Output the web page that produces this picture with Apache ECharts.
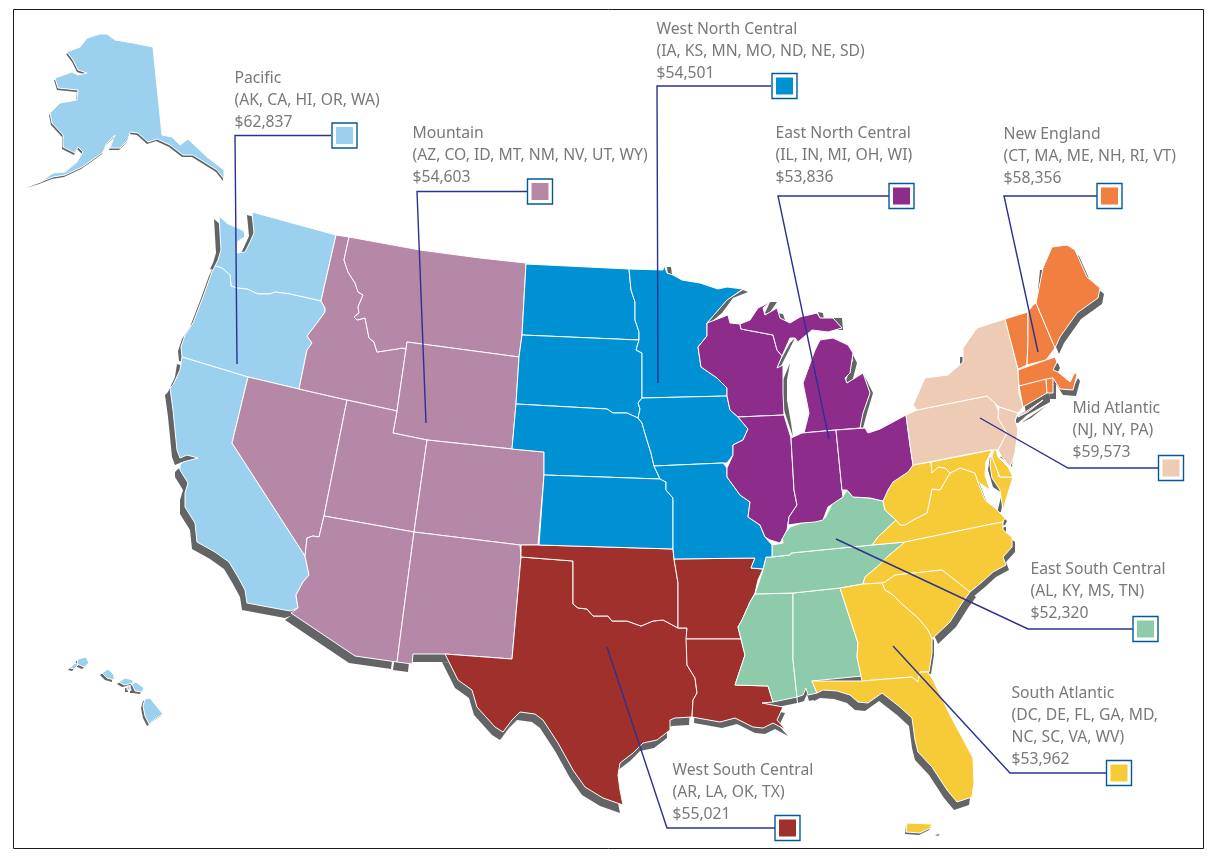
<!DOCTYPE html>
<html>
<head>
<meta charset="utf-8">
<style>html,body{margin:0;padding:0;background:#fff}#chart{width:1216px;height:857px}</style>
<script src="https://cdn.jsdelivr.net/npm/echarts@6/dist/echarts.min.js"></script>
</head>
<body>
<div id="chart"></div>
<script>
// regions
var regionNames = ['Pacific', 'Mountain', 'West North Central', 'East North Central', 'New England', 'Mid Atlantic', 'East South Central', 'South Atlantic', 'West South Central'];
var regionLists = ['(AK, CA, HI, OR, WA)', '(AZ, CO, ID, MT, NM, NV, UT, WY)', '(IA, KS, MN, MO, ND, NE, SD)', '(IL, IN, MI, OH, WI)', '(CT, MA, ME, NH, RI, VT)', '(NJ, NY, PA)', '(AL, KY, MS, TN)', '(DC, DE, FL, GA, MD,\nNC, SC, VA, WV)', '(AR, LA, OK, TX)'];
var regionIncome = ['$62,837', '$54,603', '$54,501', '$53,836', '$58,356', '$59,573', '$52,320', '$53,962', '$55,021'];
var regionColors = ['#9bd1ee', '#b688a8', '#0090d4', '#8e2c8c', '#f18040', '#eecbb5', '#8dcbab', '#f7cb38', '#a0302c'];
var regionStates = [
	['AK', 'CA', 'HI', 'OR', 'WA'],
	['AZ', 'CO', 'ID', 'MT', 'NM', 'NV', 'UT', 'WY'],
	['IA', 'KS', 'MN', 'MO', 'ND', 'NE', 'SD'],
	['IL', 'IN', 'MI', 'OH', 'WI'],
	['CT', 'MA', 'ME', 'NH', 'RI', 'VT'],
	['NJ', 'NY', 'PA'],
	['AL', 'KY', 'MS', 'TN'],
	['DE', 'FL', 'GA', 'MD', 'NC', 'SC', 'VA', 'WV', 'PR'],
	['AR', 'LA', 'OK', 'TX']
];

// callout layout, picture pixels
var labelAnchors = [[234, 100.5], [412, 155.5], [656, 51.5], [775, 155.5], [1003, 156.5], [1072, 430.5], [1030, 591.5], [1011, 726.5], [672, 792.5]];
var keyAnchors = [[344.5, 135.5], [540, 191.5], [784.5, 86], [901.5, 196], [1109.5, 196], [1171, 468], [1145.5, 629], [1119, 773], [787.5, 828]];
var leaders = [
	[[331, 135.5], [235, 135.5], [237, 364]],
	[[527, 191.5], [417, 191.5], [426, 423]],
	[[771, 86], [657, 86], [658, 383]],
	[[889, 196], [778, 196], [829, 439]],
	[[1097, 196], [1004, 196], [1038, 352]],
	[[1158, 468], [1068, 468], [980, 418]],
	[[1133, 629], [1028, 629], [836, 539]],
	[[1106, 773], [1010, 773], [893, 646]],
	[[775, 828], [667, 828], [607, 647]]
];

// state outlines in pixels
var stateShapes = {
	AK: [[[100,34],[107,34],[115,40],[133,43],[153,47],[162,135],[172,137],[180,145],[188,139],[207,157],[224,170],[224,179],[217,170],[193,155],[183,155],[170,145],[157,139],[148,142],[138,133],[130,132],[128,140],[120,148],[110,148],[115,135],[107,143],[103,152],[92,160],[82,167],[65,175],[53,177],[40,182],[27,186],[43,180],[53,173],[65,172],[77,162],[83,152],[78,147],[75,153],[63,147],[63,135],[52,123],[50,113],[60,103],[77,100],[78,90],[58,88],[55,78],[72,72],[78,75],[87,73],[78,70],[73,60],[67,52],[80,47],[87,38]]],
	HI: [[[78,659],[86,657],[89,663],[84,667],[77,664]],[[70,668],[75,663],[78,665],[74,669]],[[102,673],[108,669],[114,675],[114,680],[107,678]],[[119,682],[125,678],[133,680],[133,683],[124,685]],[[132,684],[136,682],[144,688],[142,692],[135,691]],[[127,686],[130,686],[130,690],[127,690]],[[145,699],[150,698],[158,708],[163,714],[155,719],[149,724],[145,716],[143,706]]],
	WA: [[[252,212],[336,235],[321,301],[290,294],[275,292],[270,294],[258,294],[247,289],[237,288],[231,286],[230,275],[222,268],[215,266],[218,260],[221,250],[219,216],[228,224],[238,228],[244,231],[245,237],[238,241],[237,253],[245,252],[250,242],[254,233]]],
	OR: [[[215,266],[222,268],[230,275],[231,286],[237,288],[247,289],[258,294],[270,294],[275,292],[290,294],[321,301],[325,308],[325,312],[317,323],[307,336],[312,343],[307,350],[299,389],[248,377],[182,357],[181,347],[185,335],[193,323],[203,297],[212,272]]],
	CA: [[[182,357],[248,377],[232,443],[305,556],[309,575],[303,582],[296,595],[298,608],[290,611],[247,603],[245,590],[238,577],[229,562],[215,552],[197,542],[195,523],[185,507],[185,493],[188,483],[180,470],[180,465],[183,462],[198,458],[187,455],[180,458],[177,450],[175,430],[173,410],[170,388],[173,385],[180,370]]],
	NV: [[[248,377],[299,389],[347,400],[341,430],[324,516],[319,537],[313,536],[307,538],[305,556],[232,443]]],
	ID: [[[336,235],[349,237],[344,260],[348,272],[355,283],[358,292],[363,295],[358,307],[359,313],[354,317],[357,320],[365,318],[369,338],[374,342],[377,352],[397,349],[402,348],[406,349],[397,411],[347,400],[299,389],[307,350],[312,343],[307,336],[317,323],[325,312],[325,308],[321,301]]],
	MT: [[[349,237],[420,250],[480,258],[526,263],[522,335],[519,357],[407,342],[406,349],[402,348],[397,349],[377,352],[374,342],[369,338],[365,318],[357,320],[354,317],[359,313],[358,307],[363,295],[358,292],[355,283],[348,272],[344,260]]],
	WY: [[[407,342],[519,357],[516,404],[512,449],[427,440],[393,433],[397,411]]],
	UT: [[[347,400],[397,411],[393,433],[427,440],[414,532],[324,516],[341,430]]],
	CO: [[[427,440],[512,449],[544,452],[544,475],[538,545],[520,545],[414,532]]],
	AZ: [[[324,516],[414,532],[397,662],[355,656],[291,613],[298,608],[296,595],[303,582],[309,575],[305,556],[307,538],[313,536],[319,537]]],
	NM: [[[414,532],[520,545],[521,557],[512,659],[445,654],[413,654],[412,664],[397,662]]],
	TX: [[[521,557],[573,561],[573,604],[578,608],[587,609],[593,616],[608,616],[612,621],[627,621],[641,626],[653,621],[663,620],[678,628],[687,628],[687,665],[695,678],[697,693],[693,700],[692,717],[675,718],[670,720],[670,730],[657,740],[643,743],[633,753],[620,763],[618,775],[620,790],[623,805],[603,798],[585,787],[573,770],[558,743],[543,720],[535,714],[520,712],[512,720],[503,732],[495,727],[477,707],[472,690],[458,680],[445,654],[512,659]]],
	OK: [[[521,545],[539,545],[673,549],[674,559],[678,583],[678,628],[663,620],[653,621],[641,626],[627,621],[612,621],[608,616],[593,616],[587,609],[578,608],[573,604],[573,561],[521,557]]],
	AR: [[[674,559],[755,558],[751,568],[763,569],[758,580],[755,593],[750,602],[742,620],[738,627],[741,639],[686,639],[687,628],[678,628],[678,583]]],
	LA: [[[686,639],[741,639],[745,655],[735,685],[768,686],[773,702],[762,703],[783,707],[777,720],[786,730],[773,723],[763,728],[753,727],[735,718],[720,722],[692,717],[693,700],[697,693],[695,678],[687,665]]],
	MS: [[[755,594],[793,593],[793,660],[797,697],[773,702],[768,686],[735,685],[745,655],[741,639],[738,627],[742,620],[750,602]]],
	AL: [[[793,593],[840,588],[858,643],[857,657],[862,676],[812,681],[817,693],[808,695],[806,688],[803,695],[797,697],[793,660]]],
	TN: [[[755,594],[763,570],[766,557],[772,557],[790,555],[791,553],[872,545],[905,542],[887,557],[877,567],[865,577],[863,584],[840,588],[793,593]]],
	KY: [[[772,557],[772,545],[783,543],[782,537],[790,527],[802,523],[815,518],[825,518],[833,502],[842,498],[847,490],[853,497],[870,498],[883,501],[885,510],[896,520],[878,537],[872,545],[791,553],[790,555]]],
	VA: [[[896,520],[900,525],[905,525],[913,520],[927,513],[932,489],[940,490],[950,473],[960,468],[975,473],[978,482],[985,500],[995,508],[1005,518],[1003,522],[987,525],[905,542],[872,545],[878,537]]],
	WV: [[[883,501],[888,490],[893,482],[908,472],[913,465],[931,462],[932,473],[938,467],[945,468],[950,473],[940,490],[932,489],[927,513],[913,520],[905,525],[900,525],[896,520],[885,510]]],
	MD: [[[931,462],[992,450],[986,462],[985,475],[990,490],[978,482],[975,473],[960,468],[950,473],[945,468],[938,467],[932,473]],[[992,450],[999,477],[1013,477],[1009,490],[1003,510],[1000,490],[992,478],[990,465]]],
	DE: [[[995,445],[998,457],[1008,467],[1013,477],[1000,477],[992,457]]],
	NC: [[[905,542],[987,525],[1003,522],[1003,530],[1012,537],[1012,547],[1003,557],[1006,565],[993,572],[982,582],[970,592],[942,570],[895,575],[885,582],[882,583],[863,584],[865,577],[877,567],[887,557]]],
	SC: [[[882,583],[885,582],[895,575],[942,570],[970,592],[962,603],[950,622],[932,639],[928,630],[918,618],[903,605],[893,595],[885,590]]],
	GA: [[[840,588],[863,584],[882,583],[885,590],[893,595],[903,605],[918,618],[928,630],[932,639],[932,653],[929,672],[920,672],[918,682],[912,677],[862,681],[857,657],[858,643]]],
	FL: [[[812,681],[862,681],[912,677],[918,682],[920,672],[928,672],[933,680],[950,715],[973,758],[974,783],[972,797],[957,802],[947,790],[932,767],[918,752],[915,740],[912,718],[900,707],[882,693],[868,703],[858,702],[850,695],[837,691],[823,690],[817,693]]],
	PR: [[[907,823],[932,824],[930,828],[920,833],[906,832]],[[936,833],[941,832],[939,834]]],
	ND: [[[526,264],[629,269],[631,290],[635,302],[635,320],[639,332],[639,340],[522,335]]],
	SD: [[[522,335],[639,340],[636,350],[642,353],[642,398],[638,403],[640,409],[638,418],[627,413],[613,413],[607,409],[516,404],[519,357]]],
	NE: [[[516,404],[607,409],[613,413],[627,413],[638,418],[642,423],[646,437],[651,453],[654,466],[660,479],[544,475],[544,452],[512,449]]],
	KS: [[[544,475],[660,479],[666,482],[666,490],[673,498],[673,549],[539,545]]],
	MN: [[[629,269],[663,270],[664,265],[667,273],[673,275],[682,280],[700,283],[718,289],[727,287],[743,289],[727,300],[707,323],[707,336],[698,347],[701,367],[717,378],[727,388],[727,396],[642,398],[642,353],[636,350],[639,340],[639,332],[635,320],[635,302],[631,290]]],
	IA: [[[642,398],[727,396],[730,410],[738,417],[748,429],[743,440],[733,445],[733,455],[727,463],[723,463],[654,466],[651,453],[646,437],[642,423],[638,418],[640,409],[638,403]]],
	MO: [[[654,466],[723,463],[727,468],[727,477],[740,495],[750,502],[748,517],[760,525],[765,537],[772,545],[772,557],[766,557],[763,569],[751,568],[755,558],[674,559],[673,549],[673,498],[666,490],[666,482],[660,479]]],
	WI: [[[707,323],[728,315],[730,323],[740,324],[741,329],[773,335],[777,350],[782,356],[777,368],[783,365],[783,393],[784,415],[738,417],[730,410],[727,396],[727,388],[717,378],[701,367],[698,347],[707,336]]],
	MI: [[[740,324],[741,329],[773,335],[777,350],[782,356],[790,338],[795,338],[798,342],[812,330],[828,332],[842,328],[833,318],[820,318],[817,313],[800,317],[790,323],[780,318],[777,308],[765,315],[763,308],[770,302],[758,308],[750,320]],[[802,433],[804,433],[809,413],[803,383],[815,350],[820,340],[833,338],[848,345],[853,353],[850,373],[845,378],[847,383],[863,373],[870,393],[863,413],[860,428],[836,430]]],
	IL: [[[738,417],[784,415],[791,438],[794,490],[797,505],[789,517],[787,530],[780,543],[770,540],[765,537],[760,525],[748,517],[750,502],[740,495],[727,477],[727,468],[733,455],[733,445],[743,440],[748,429]]],
	IN: [[[791,438],[802,433],[836,430],[842,490],[843,497],[828,507],[823,520],[815,522],[802,523],[788,525],[789,517],[797,505],[794,490]]],
	OH: [[[836,430],[865,428],[868,433],[880,429],[906,415],[910,445],[913,465],[908,472],[893,482],[888,490],[883,501],[870,498],[853,497],[847,490],[842,490]]],
	PA: [[[906,415],[917,410],[987,396],[995,403],[999,412],[998,418],[1007,433],[998,450],[990,450],[913,465],[910,445]]],
	NY: [[[917,410],[913,405],[925,378],[948,375],[963,362],[963,348],[977,328],[1005,319],[1013,350],[1018,370],[1019,393],[1023,407],[1018,413],[999,407],[995,403],[987,396]]],
	NJ: [[[999,407],[1018,413],[1015,420],[1018,430],[1015,453],[1010,467],[1002,457],[998,450],[1007,433],[998,418]]],
	VT: [[[1005,319],[1028,312],[1028,327],[1028,340],[1027,365],[1018,369],[1013,350]]],
	NH: [[[1028,312],[1033,305],[1036,303],[1055,348],[1046,360],[1027,365],[1028,340],[1028,327]]],
	ME: [[[1036,303],[1043,268],[1052,247],[1067,245],[1075,250],[1087,277],[1100,288],[1098,298],[1077,313],[1060,337],[1055,348]]],
	MA: [[[1018,370],[1046,360],[1055,357],[1057,362],[1053,370],[1058,372],[1070,382],[1075,372],[1077,375],[1073,390],[1060,389],[1053,378],[1019,386]]],
	CT: [[[1019,386],[1046,379],[1047,393],[1023,407]],[[1018,417],[1043,400],[1028,412]]],
	RI: [[[1046,379],[1053,378],[1053,393],[1047,393]]]
};

// dark coast edge: each state repeated under itself, moved by this much
var edgeShift = {
	AK: [-1, 2], HI: [-2, 2], PR: [-1, 2], WA: [-5, 3], OR: [-3, 4], CA: [-5, 7], AZ: [-6, 7], NM: [-4, 8], TX: [-3, 8],
	LA: [2, 6], MS: [0, 6], AL: [1, 6], FL: [-3, 8], GA: [2, 2], SC: [6, 5], NC: [3, 5], VA: [2, 3], ME: [4, 6], MA: [3, 6], RI: [3, 6], CT: [3, 6]
};
// bits of dark edge in the lakes and bays
var edgeBits = [
	[[748,292],[733,298],[722,313],[710,323],[708,322],[727,300],[743,290]],
	[[667,267],[671,267],[672,275],[668,275]],
	[[790,363],[783,380],[783,407],[793,437],[791,423],[787,400],[787,380]],
	[[795,338],[780,368],[777,367],[790,343]],
	[[863,373],[873,393],[867,413],[863,428],[858,427],[863,413],[870,393]],
	[[848,345],[857,363],[852,382],[845,383],[848,375],[853,360],[848,350]],
	[[833,318],[842,318],[843,330],[838,330]],
	[[818,312],[823,313],[824,320],[820,319]],
	[[770,302],[777,302],[768,315],[765,313]],
	[[777,313],[783,314],[785,320],[780,320]],
	[[960,357],[966,357],[966,365],[960,364]],
	[[921,389],[927,388],[926,395],[921,394]],
	[[1040,270],[1043,270],[1040,295],[1038,290]],
	[[1015,423],[1017,417],[1037,403],[1050,397],[1050,402],[1027,415],[1018,423]],
	[[1000,457],[1013,453],[1012,467],[1008,463]],
	[[990,457],[988,470],[993,487],[1002,493],[997,513],[1001,512],[1005,490],[995,473],[993,460]],
	[[130,691],[133,690],[133,693],[130,693]]
];

var features = [];
function addFeature(name, rings) {
	features.push({
		type: 'Feature',
		properties: { name: name },
		geometry: { type: 'MultiPolygon', coordinates: rings.map(function(r) { return [r]; }) }
	});
}
edgeBits.forEach(function(r, i) { addFeature('edge_bit' + i, [r]); });
Object.keys(edgeShift).forEach(function(st) {
	var d = edgeShift[st];
	addFeature('edge_' + st, stateShapes[st].map(function(r) {
		return r.map(function(p) { return [p[0] + d[0], p[1] + d[1]]; });
	}));
});
Object.keys(stateShapes).forEach(function(st) { addFeature(st, stateShapes[st]); });
echarts.registerMap('usRegions', { type: 'FeatureCollection', features: features });

var stateStyles = [];
regionStates.forEach(function(states, i) {
	states.forEach(function(st) {
		stateStyles.push({ name: st, itemStyle: { areaColor: regionColors[i], borderColor: '#fff', borderWidth: 1 } });
	});
});

var chart = echarts.init(document.getElementById('chart'));
chart.setOption({
	backgroundColor: '#fff',
	animation: false,
	graphic: [{
		type: 'rect', z: -10, silent: true,
		shape: { x: 13.5, y: 9.5, width: 1190, height: 839 },
		style: { fill: '#fff', stroke: '#1a1a1a', lineWidth: 1 }
	}],
	geo: {
		map: 'usRegions',
		projection: { project: function(p) { return p; }, unproject: function(p) { return p; } },
		boundingCoords: [[0, 0], [1216, 857]],
		aspectScale: 1,
		left: 0, top: 0, width: 1216, height: 857,
		roam: false, silent: true,
		label: { show: false },
		itemStyle: { areaColor: '#636466', borderWidth: 0 },
		regions: stateStyles
	},
	series: [{
		type: 'lines',
		coordinateSystem: 'geo',
		polyline: true,
		silent: true,
		lineStyle: { color: '#2e3192', width: 1.4, opacity: 1 },
		data: leaders.map(function(l) { return { coords: l }; })
	}, {
		type: 'scatter',
		coordinateSystem: 'geo',
		silent: true,
		symbol: 'rect',
		symbolSize: 25,
		itemStyle: { color: '#fff', borderColor: '#005b9a', borderWidth: 1.4, opacity: 1 },
		data: keyAnchors,
		z: 5
	}, {
		type: 'scatter',
		coordinateSystem: 'geo',
		silent: true,
		symbol: 'rect',
		symbolSize: 17,
		data: keyAnchors.map(function(k, i) { return { value: k, itemStyle: { color: regionColors[i], opacity: 1 } }; }),
		z: 6
	}, {
		type: 'scatter',
		coordinateSystem: 'geo',
		silent: true,
		symbolSize: 1,
		itemStyle: { color: 'transparent' },
		z: 7,
		label: {
			show: true, position: 'right', distance: 0,
			align: 'left', verticalAlign: 'middle',
			fontFamily: 'Noto Sans', fontSize: 15.7, lineHeight: 22, color: '#55565a',
			formatter: function(p) {
				var i = p.dataIndex;
				return regionNames[i] + '\n' + regionLists[i] + '\n' + regionIncome[i];
			}
		},
		data: labelAnchors
	}]
});

window.addEventListener('resize', function() { chart.resize(); });
</script>
</body>
</html>
